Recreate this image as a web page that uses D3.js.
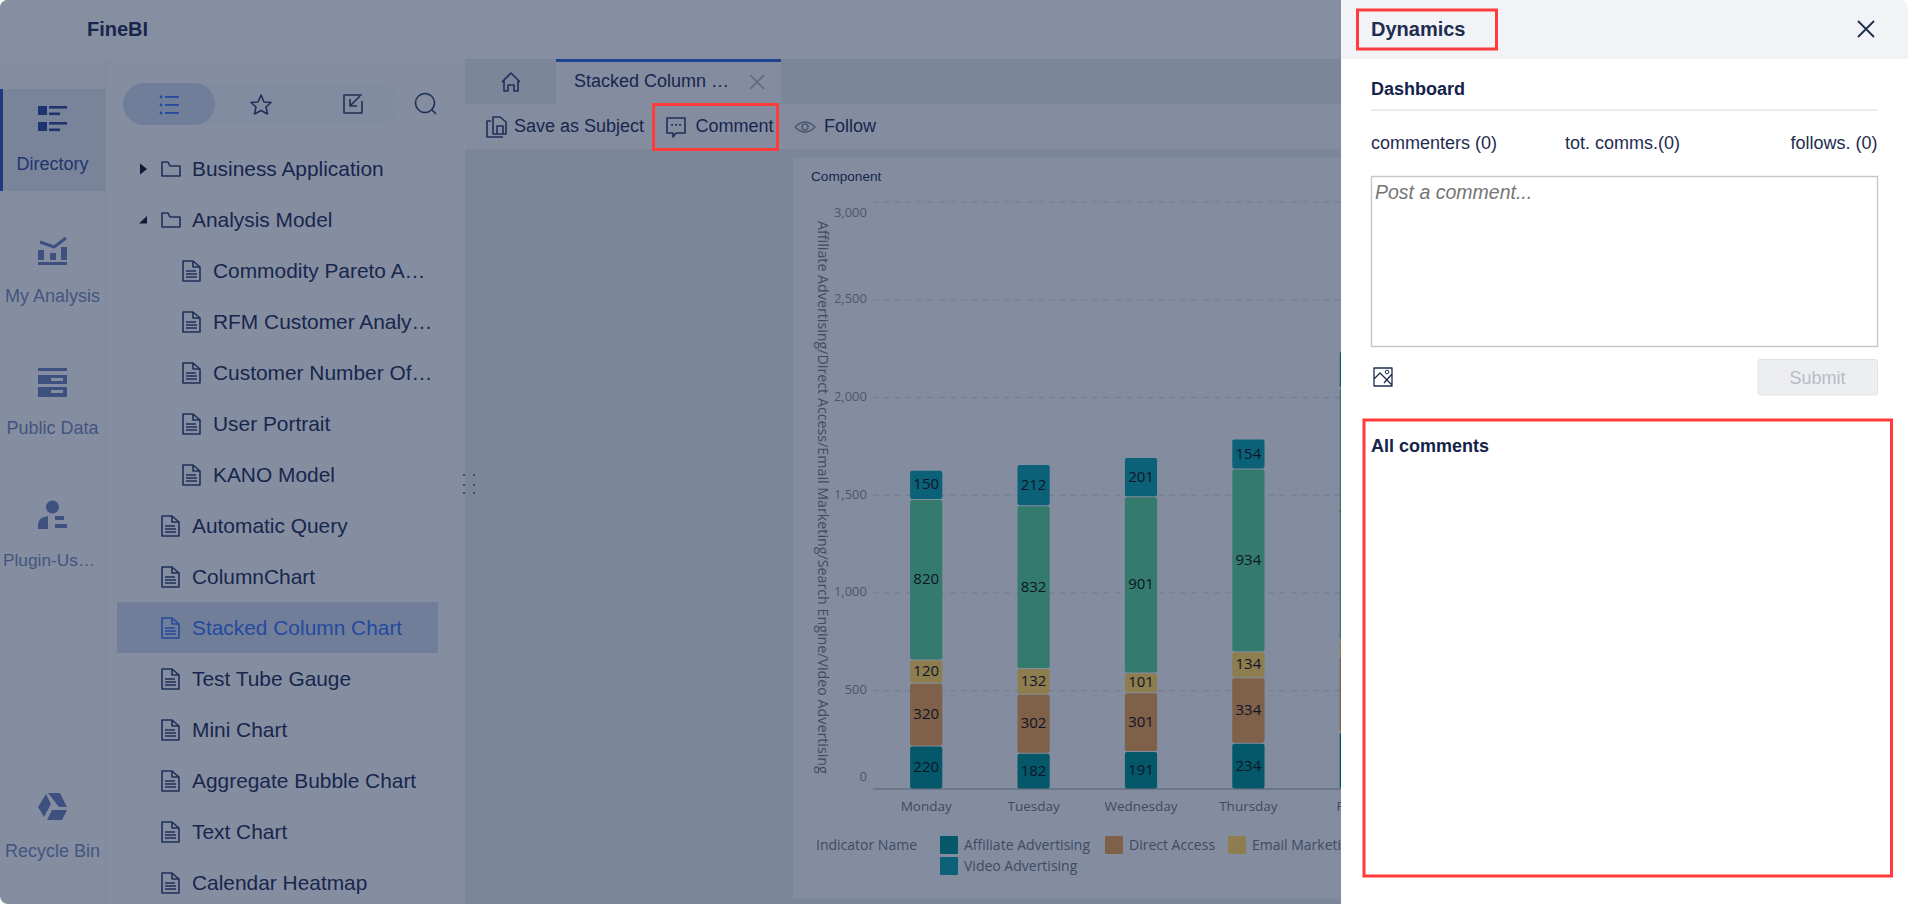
<![CDATA[<!DOCTYPE html>
<html><head><meta charset="utf-8">
<script src="https://d3js.org/d3.v7.min.js"></script>
<style>
html,body{margin:0;padding:0;background:#fff;overflow:hidden}
svg{display:block}
text{font-family:"Liberation Sans",Arial,sans-serif}
.chart text{font-family:"Open Sans",sans-serif}
</style></head><body>
<svg id="s" width="1914" height="904"></svg>
<script>
// ---- data ----
const days = ["Monday","Tuesday","Wednesday","Thursday","Friday"];
const seriesNames = ["Affiliate Advertising","Direct Access","Email Marketing","Search Engine","Video Advertising"];
const affiliate = [220,182,191,234,290];
const direct    = [320,302,301,334,390];
const email     = [120,132,101,134,80];
const search    = [820,832,901,934,1290];
const video     = [150,212,201,154,190];
const seriesColors = ["#04586a","#7f6049","#8d7d4f","#347b6e","#0b6278"];
const yTicks = [0,500,1000,1500,2000,2500,3000];
const treeLabels = ["Business Application","Analysis Model","Commodity Pareto A…","RFM Customer Analy…","Customer Number Of…","User Portrait","KANO Model","Automatic Query","ColumnChart","Stacked Column Chart","Test Tube Gauge","Mini Chart","Aggregate Bubble Chart","Text Chart","Calendar Heatmap"];
const navLabels = ["Directory","My Analysis","Public Data","Plugin-Us…","Recycle Bin"];
const stats = ["commenters (0)","tot. comms.(0)","follows. (0)"];

const svg = d3.select("#s");
const defs = svg.append("defs");
defs.append("clipPath").attr("id","appClip").append("rect").attr("x",0).attr("y",0).attr("width",1400).attr("height",904).attr("rx",8);
defs.append("clipPath").attr("id","panelClip").append("rect").attr("x",1300).attr("y",0).attr("width",608).attr("height",904).attr("rx",8);
defs.append("clipPath").attr("id","chartClip").append("rect").attr("x",793).attr("y",158).attr("width",548).attr("height",746);

const C = {top:"#868fa1",nav:"#858ea0",navSel:"#79849a",main:"#7b8699",card:"#848da0",ink:"#17264d",navInk:"#43557f",blue:"#234a9c",line:"#1f3058",red:"#ff3b3b"};
const app = svg.append("g").attr("clip-path","url(#appClip)");
function R(g,x,y,w,h,fill,rx){return g.append("rect").attr("x",x).attr("y",y).attr("width",w).attr("height",h).attr("fill",fill).attr("rx",rx||0);}
function T(g,str,x,y,size,fill,o){o=o||{};return g.append("text").attr("x",x).attr("y",y).attr("font-size",size).attr("fill",fill).attr("text-anchor",o.anchor||"start").attr("font-weight",o.weight||null).attr("font-style",o.style||null).attr("dominant-baseline",o.base||null).text(str);}
function P(g,d,x,y,stroke,fill,w){return g.append("path").attr("d",d).attr("transform",`translate(${x},${y})`).attr("fill",fill||"none").attr("stroke",stroke||"none").attr("stroke-width",w==null?1.6:w).attr("stroke-linejoin","round");}

// shell
R(app,0,0,1400,904,C.nav);
R(app,465,59,935,845,C.main);
R(app,0,0,1400,59,C.top);
R(app,105,59,1,845,"#7f899c");
T(app,"FineBI",87,36,20,"#17264d",{weight:"bold"});

// nav
R(app,0,89,105,102,C.navSel);
R(app,0,89,3,102,"#1f3a7a");
const navY=[170,302,434,566,857];
navLabels.forEach((l,i)=>{
  if(i==3) T(app,l,3,navY[i],17.3,C.navInk);
  else T(app,l,52.5,navY[i],18,i==0?"#1f3470":C.navInk,{anchor:"middle"});
});
const ni="#3d5080";
// directory icon
const ic0=app.append("g");
R(ic0,38,106,9,9,"#1f3470");R(ic0,38,122,9,9,"#1f3470");
[[49,106,18],[49,112.5,11],[49,122,18],[49,128.5,11]].forEach(a=>R(ic0,a[0],a[1],a[2],2.6,"#1f3470"));
// my analysis
R(app,38,250,6,10,ni);R(app,50,253,6,7,ni);R(app,61,247,6,13,ni);R(app,38,262,29,3,ni);
P(app,"M0,4 L14,9 L26,0",40,238,ni,"none",3);
// public data
R(app,38,368,29,3,ni);R(app,38,375,29,9,ni);R(app,38,387,29,10,ni);
R(app,51,378,12,3,C.nav);R(app,51,390,12,3,C.nav);
// plugin
app.append("circle").attr("cx",52.5).attr("cy",507).attr("r",6.5).attr("fill",ni);
P(app,"M0,15 L0,10 Q1,3 10,2 L10,15 Z",38,514,null,ni);
R(app,55,516,9,4,ni);R(app,55,524,12,4,ni);
// recycle
P(app,"M10,0 L22,0 L29,14 L21,14 Z M0,14 L8,1 L13,11 L6,24 Z M9,27 L14,17 L29,17 L24,27 Z",38,793,null,ni);

// filter pills
R(app,123,83,276,42,"#828ca0",21);
R(app,123,83,92,42,"#717e9a",21);
[0,8,16].forEach(d=>{app.append("circle").attr("cx",161).attr("cy",97+d).attr("r",1.4).attr("fill",C.blue);R(app,165,96+d,14,1.8,C.blue);});
P(app,"M0,-10 L3,-3 L10,-2.5 L5,2 L6.5,9 L0,5.5 L-6.5,9 L-5,2 L-10,-2.5 L-3,-3 Z",261,105,C.line);
P(app,"M9,-9 L-9,-9 L-9,9 L9,9 L9,-3 M7,-8 L-3,2 M-3,-5 L-3,2 L4,2",353,104,C.line);
app.append("circle").attr("cx",425).attr("cy",103).attr("r",9.5).attr("fill","none").attr("stroke",C.line).attr("stroke-width",1.6);
P(app,"M6.5,6.5 L11,11",425,103,C.line);

// tree
const rowY=i=>169+51*i, indent=i=>(i>=2&&i<=6)?213:192;
R(app,117,602,321,51,"#717e9a");
const folder="M0,2 L0,15 L18,15 L18,5 L8,5 L6,1 L0,1 Z", doc="M0,0 L10,0 L17,6 L17,20 L0,20 Z M10,0 L10,6 L17,6 M3,10 L13,10 M3,13 L14,13 M3,16 L14,16";
treeLabels.forEach((l,i)=>{
  const sel=l==="Stacked Column Chart", c=sel?C.blue:C.ink;
  T(app,l,indent(i),rowY(i)+7,20.9,c);
  if(i<2) P(app,folder,162,rowY(i)-8,C.line);
  else P(app,doc,indent(i)-30,rowY(i)-10,sel?C.blue:C.line);
});
P(app,"M0,-5.5 L7,0 L0,5.5 Z",140,169,null,"#10193a");
P(app,"M0,3.5 L8,3.5 L8,-4 Z",139,220,null,"#10193a");
[[464,475],[474,475],[464,485],[474,485],[464,493],[474,493]].forEach(p=>R(app,p[0]-1,p[1]-1,2,2,"#3f4b68"));

// tab bar & toolbar
R(app,465,104,935,45,C.card);
R(app,556,59,225,45,C.card);
R(app,556,59,225,3,"#1f4291");
P(app,"M-9,0 L0,-9 L9,0 M-7,-2 L-7,9 L-3,9 L-3,3 L3,3 L3,9 L7,9 L7,-2",511,82,C.line);
T(app,"Stacked Column …",574,87,18,C.ink);
P(app,"M-7,-7 L7,7 M7,-7 L-7,7",757,82,"#5e6a84");
P(app,"M-3,-9 L4,-9 L10,-4 L10,8 L-3,8 Z M1,8 L1,0 L7,0 L7,8 M-5,-5 L-9,-5 L-9,11 L7,11",496,126,C.line);
T(app,"Save as Subject",514,132,18,C.ink);
P(app,"M-9,-8 L9,-8 L9,7 L0,7 L-3,11 L-3,7 L-9,7 Z",676,126,C.line);
[-4,0,4].forEach(d=>R(app,676+d-0.8,124,1.8,1.8,C.line));
T(app,"Comment",695.5,132,18,C.ink);
P(app,"M-10,0 Q0,-10 10,0 Q0,10 -10,0 Z",805,127,"#4c5872");
app.append("circle").attr("cx",805).attr("cy",127).attr("r",3).attr("fill","none").attr("stroke","#4c5872").attr("stroke-width",1.5);
T(app,"Follow",824,132,18,C.ink);

// card & chart
R(app,793,158,610,741,C.card);
T(app,"Component",811,181,13.6,C.ink);

const chart = app.append("g").attr("class","chart").attr("clip-path","url(#chartClip)");
const rows = days.map((d,i)=>({day:d,[seriesNames[0]]:affiliate[i],[seriesNames[1]]:direct[i],[seriesNames[2]]:email[i],[seriesNames[3]]:search[i],[seriesNames[4]]:video[i]}));
const stacked = d3.stack().keys(seriesNames)(rows);
const color = d3.scaleOrdinal(seriesNames,seriesColors);
const x = d3.scaleBand(days,[872.5,872.5+107.4*days.length]).paddingInner(0.7).paddingOuter(0.35);
const y = d3.scaleLinear([0,3000],[788.4,202]);

// gridlines
chart.append("g").selectAll("line").data(yTicks.filter(t=>t>0)).join("line")
  .attr("x1",872.5).attr("x2",1341).attr("y1",d=>y(d)).attr("y2",d=>y(d))
  .attr("stroke","#727c91").attr("stroke-dasharray","6 5").attr("stroke-width",1);

// y axis
const gy = chart.append("g").attr("transform","translate(867,0)")
  .call(d3.axisLeft(y).tickValues(yTicks).tickSize(0).tickPadding(0).tickFormat(d3.format(",")));
gy.select(".domain").remove();
gy.selectAll("text").attr("font-size",13).attr("fill","#4d566b").attr("font-family",'"Open Sans",sans-serif')
  .attr("dy",d=>d===0?"-0.6em":d===3000?"1.15em":"0.22em");
// x axis
const gx = chart.append("g").attr("transform","translate(0,788.4)")
  .call(d3.axisBottom(x).tickSize(0).tickPadding(13));
gx.select(".domain").attr("stroke","#656f84").attr("stroke-width",1.5);
gx.selectAll("text").attr("font-size",13.5).attr("fill","#3f4a63").attr("font-family",'"Open Sans",sans-serif');

// bars
const gap=1;
const layer = chart.append("g").selectAll("g").data(stacked).join("g").attr("fill",d=>color(d.key));
layer.selectAll("rect").data(d=>d).join("rect")
  .attr("x",d=>x(d.data.day)).attr("width",x.bandwidth()).attr("rx",2)
  .attr("y",d=>y(d[1])+gap).attr("height",d=>y(d[0])-y(d[1])-gap);
layer.selectAll("text").data(d=>d).join("text")
  .attr("x",d=>x(d.data.day)+x.bandwidth()/2).attr("y",d=>(y(d[0])+y(d[1]))/2-1)
  .attr("text-anchor","middle").attr("dominant-baseline","central")
  .attr("font-size",15).attr("fill","#0e1526")
  .text(d=>d[1]-d[0]);

// y title
chart.append("text").attr("transform","translate(818,221) rotate(90)")
  .attr("font-size",14.25).attr("fill","#3f4a63").attr("font-family",'"Open Sans",sans-serif')
  .text(seriesNames.join("/"));

// legend
const lg = chart.append("g").attr("font-size",14);
lg.append("text").attr("x",816).attr("y",844).attr("dominant-baseline","central").attr("fill","#3f4a63").text("Indicator Name");
const legendSlots=[[940,836],[1105,836],[1228,836],[1400,836],[940,857]];
seriesNames.forEach((n,i)=>{
  const s=legendSlots[i];
  R(lg,s[0],s[1],18,18,color(n),1);
  lg.append("text").attr("x",s[0]+24).attr("y",s[1]+8).attr("dominant-baseline","central").attr("fill","#3f4a63").text(n);
});

// right panel
const p = svg.append("g").attr("clip-path","url(#panelClip)");
R(p,1341,0,567,904,"#fff");
R(p,1341,0,567,59,"#f2f3f7");
T(p,"Dynamics",1371,36,20,"#1e2c4f",{weight:"bold"});
P(p,"M-8,-8 L8,8 M8,-8 L-8,8",1866,29,"#1e2c4f",null,1.8);
T(p,"Dashboard",1371,95,18,"#14234a",{weight:"bold"});
R(p,1371,109.5,506.5,1.2,"#dcdfe6");
T(p,stats[0],1371,149,18,"#1e2c4f");
T(p,stats[1],1565,149,18,"#1e2c4f");
T(p,stats[2],1877.5,149,18,"#1e2c4f",{anchor:"end"});
p.append("rect").attr("x",1371.5).attr("y",176.5).attr("width",506).attr("height",170).attr("fill","#fff").attr("stroke","#c6c6c6").attr("stroke-width",1.4);
T(p,"Post a comment...",1375,199,19.5,"#757575",{style:"italic"});
P(p,"M-9,-9 L9,-9 L9,9 L-9,9 Z M-9,2 L-3,-4 L9,8 M1,6 L9,-3",1383,377,"#1e2c4f",null,1.3);
p.append("circle").attr("cx",1387).attr("cy",372).attr("r",1.8).attr("fill","none").attr("stroke","#1e2c4f");
p.append("rect").attr("x",1758).attr("y",359.5).attr("width",119.5).attr("height",35.5).attr("rx",2).attr("fill","#eceef2").attr("stroke","#e0e2e6");
T(p,"Submit",1817.5,384,18,"#b8bcc5",{anchor:"middle"});
T(p,"All comments",1371,452,18,"#14234a",{weight:"bold"});

// red annotation boxes
[[653.5,104.5,124,45],[1357.5,10,139,39],[1364,420,527.5,456]].forEach(b=>
  svg.append("rect").attr("x",b[0]).attr("y",b[1]).attr("width",b[2]).attr("height",b[3]).attr("fill","none").attr("stroke",C.red).attr("stroke-width",3));
</script></body></html>]]>
